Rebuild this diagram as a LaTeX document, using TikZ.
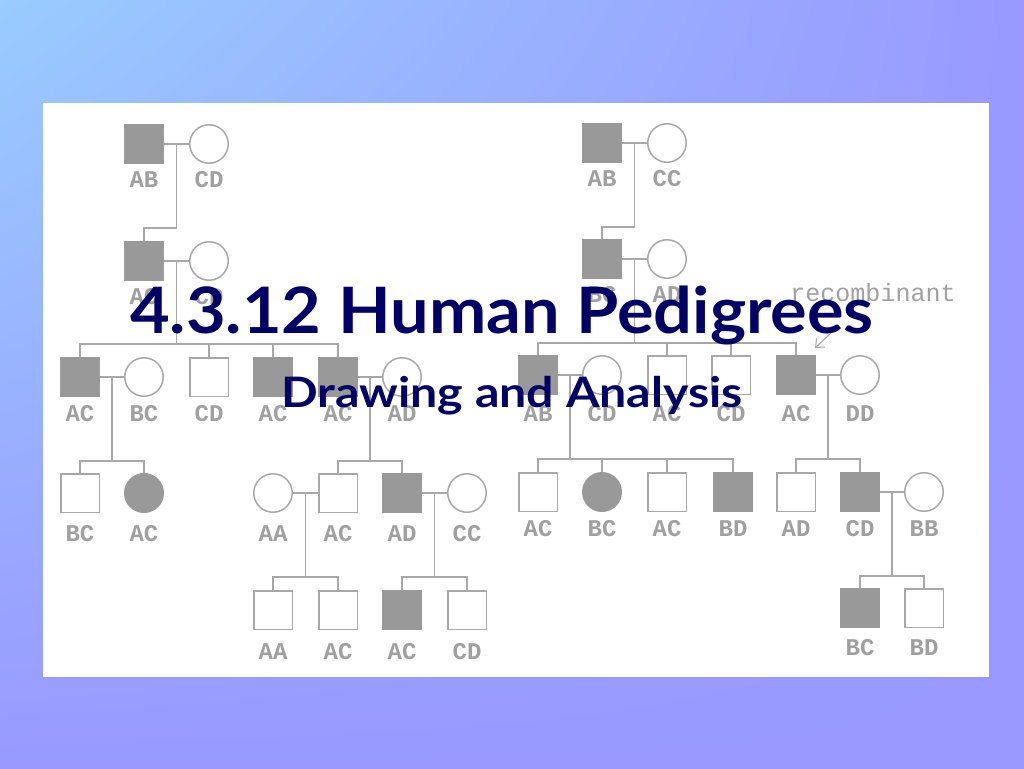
\documentclass[tikz,border=0pt]{standalone}
\usepackage{fontspec}
\usepackage{graphicx}
\setmainfont{Liberation Serif}
\newfontfamily\labfont{Liberation Mono}
\newfontfamily\titfont{Lato}
\usetikzlibrary{arrows.meta,calc,shadings}
\definecolor{bgA}{RGB}{153,204,255}
\definecolor{bgB}{RGB}{153,153,255}
\definecolor{pedfill}{RGB}{153,153,153}
\definecolor{pedline}{RGB}{168,168,168}
\definecolor{labgray}{RGB}{160,160,160}
\definecolor{navy}{RGB}{0,0,102}
\tikzset{
  pbase/.style={draw=pedline, line width=1.5pt, inner sep=0pt, minimum size=38.5pt},
  male/.style={pbase, rectangle, fill=white},
  female/.style={pbase, circle, fill=white},
  affm/.style={pbase, rectangle, fill=pedfill, draw=pedfill},
  afff/.style={pbase, circle, fill=pedfill, draw=pedfill},
  lab/.style={font=\labfont\bfseries\fontsize{24}{24}\selectfont, text=labgray, inner sep=0pt},
  reclab/.style={font=\labfont\fontsize{25}{25}\selectfont, text=labgray, inner sep=0pt},
  link/.style={draw=pedline, line width=1.5pt},
  titlestyle/.style={font=\titfont\bfseries\fontsize{64}{64}\selectfont, text=navy, inner sep=0pt, anchor=base},
  subtitlestyle/.style={font=\titfont\bfseries\fontsize{42}{42}\selectfont, text=navy, inner sep=0pt, anchor=base},
}
\newcommand\mkperson[6]{\node[#1] (#2) at (#3,#4) {}; \node[lab] (#2t) at (#3,#5) {#6};}
\begin{document}
\begin{tikzpicture}[x=1pt,y=-1pt]
\useasboundingbox (0,0) rectangle (1024,768);
\shade[upper left=bgA, upper right=bgB, lower left=bgB, lower right=bgB] (0,0) rectangle (1024,768);
\fill[white] (43,103) rectangle (989,677);

% ---------- left pedigree ----------
\mkperson{affm}{L1m}{144}{144}{180}{AB}
\mkperson{female}{L1f}{209}{144}{180}{CD}
\mkperson{affm}{L2m}{144}{261}{297}{AC}
\mkperson{female}{L2f}{209}{261}{297}{CD}
\mkperson{affm}{L3a}{80}{377}{414}{AC}
\mkperson{female}{L3b}{144}{377}{414}{BC}
\mkperson{male}{L3c}{209}{377}{414}{CD}
\mkperson{affm}{L3d}{273}{377}{414}{AC}
\mkperson{affm}{L3e}{338}{377}{414}{AC}
\mkperson{female}{L3f}{402}{377}{414}{AD}
\mkperson{male}{L4a}{80}{493}{534}{BC}
\mkperson{afff}{L4b}{144}{493}{534}{AC}
\mkperson{female}{L4c}{273}{493}{534}{AA}
\mkperson{male}{L4d}{338}{493}{534}{AC}
\mkperson{affm}{L4e}{402}{493}{534}{AD}
\mkperson{female}{L4f}{467}{493}{534}{CC}
\mkperson{male}{L5a}{273}{610}{652}{AA}
\mkperson{male}{L5b}{338}{610}{652}{AC}
\mkperson{affm}{L5c}{402}{610}{652}{AC}
\mkperson{male}{L5d}{467}{610}{652}{CD}

\draw[link] (L1m.east) -- (L1f.west);
\coordinate (L1j) at ($(L1m.east)!0.5!(L1f.west)$);
\draw[link] (L1j) -- ++(0,84) -| (L2m.north);
\draw[link] (L2m.east) -- (L2f.west);
\coordinate (L2j) at ($(L2m.east)!0.5!(L2f.west)$);
\draw[link] (L2j) -- ++(0,83);
\draw[link] (L3a.north) -- ++(0,-13) -| (L3e.north);
\draw[link] (L3c.north) -- ++(0,-13);
\draw[link] (L3d.north) -- ++(0,-13);
\draw[link] (L3a.east) -- (L3b.west);
\coordinate (L3j) at ($(L3a.east)!0.5!(L3b.west)$);
\draw[link] (L3j) -- ++(0,84);
\draw[link] (L4a.north) -- ++(0,-12) -| (L4b.north);
\draw[link] (L3e.east) -- (L3f.west);
\coordinate (L3k) at ($(L3e.east)!0.5!(L3f.west)$);
\draw[link] (L3k) -- ++(0,84);
\draw[link] (L4d.north) -- ++(0,-12) -| (L4e.north);
\draw[link] (L4c.east) -- (L4d.west);
\coordinate (L4j) at ($(L4c.east)!0.5!(L4d.west)$);
\draw[link] (L4j) -- ++(0,84);
\draw[link] (L5a.north) -- ++(0,-13) -| (L5b.north);
\draw[link] (L4e.east) -- (L4f.west);
\coordinate (L4k) at ($(L4e.east)!0.5!(L4f.west)$);
\draw[link] (L4k) -- ++(0,84);
\draw[link] (L5c.north) -- ++(0,-13) -| (L5d.north);

% ---------- right pedigree ----------
\mkperson{affm}{R1m}{602}{143}{179}{AB}
\mkperson{female}{R1f}{667}{143}{179}{CC}
\mkperson{affm}{R2m}{602}{259}{295}{BC}
\mkperson{female}{R2f}{667}{259}{295}{AD}
\mkperson{affm}{R3a}{538}{375}{414}{AB}
\mkperson{female}{R3b}{602}{375}{414}{CD}
\mkperson{male}{R3c}{667}{375}{414}{AC}
\mkperson{male}{R3d}{731}{375}{414}{CD}
\mkperson{affm}{R3e}{796}{375}{414}{AC}
\mkperson{female}{R3f}{860}{375}{414}{DD}
\mkperson{male}{R4a}{538}{492}{529}{AC}
\mkperson{afff}{R4b}{602}{492}{529}{BC}
\mkperson{male}{R4c}{667}{492}{529}{AC}
\mkperson{affm}{R4d}{733}{492}{529}{BD}
\mkperson{male}{R4e}{796}{492}{529}{AD}
\mkperson{affm}{R4f}{860}{492}{529}{CD}
\mkperson{female}{R4g}{924}{492}{529}{BB}
\mkperson{affm}{R5a}{860}{608}{648}{BC}
\mkperson{male}{R5b}{924}{608}{648}{BD}

\draw[link] (R1m.east) -- (R1f.west);
\coordinate (R1j) at ($(R1m.east)!0.5!(R1f.west)$);
\draw[link] (R1j) -- ++(0,84) -| (R2m.north);
\draw[link] (R2m.east) -- (R2f.west);
\coordinate (R2j) at ($(R2m.east)!0.5!(R2f.west)$);
\draw[link] (R2j) -- ++(0,84);
\draw[link] (R3a.north) -- ++(0,-12) -| (R3e.north);
\draw[link] (R3c.north) -- ++(0,-12);
\draw[link] (R3d.north) -- ++(0,-12);
\draw[link] (R3a.east) -- (R3b.west);
\coordinate (R3j) at ($(R3a.east)!0.5!(R3b.west)$);
\draw[link] (R3j) -- ++(0,84);
\draw[link] (R4a.north) -- ++(0,-13) -| (R4d.north);
\draw[link] (R4b.north) -- ++(0,-13);
\draw[link] (R4c.north) -- ++(0,-13);
\draw[link] (R3e.east) -- (R3f.west);
\coordinate (R3k) at ($(R3e.east)!0.5!(R3f.west)$);
\draw[link] (R3k) -- ++(0,84);
\draw[link] (R4e.north) -- ++(0,-13) -| (R4f.north);
\draw[link] (R4f.east) -- (R4g.west);
\coordinate (R4j) at ($(R4f.east)!0.5!(R4g.west)$);
\draw[link] (R4j) -- ++(0,84);
\draw[link] (R5a.north) -- ++(0,-12) -| (R5b.north);

\node[reclab] (rec) at (873,293) {recombinant};
\coordinate (recA) at (831,333);
\coordinate (recB) at (815,348);
\draw[draw=pedline, line width=1pt, -{Straight Barb[length=7pt,width=12pt]}] (recA) -- (recB);

% ---------- title ----------
\node[titlestyle] (title) at (502,333) {\scalebox{1.07}[1]{4.3.12 Human Pedigrees}};
\node[subtitlestyle] (subtitle) at (512,407) {\scalebox{1.15}[1]{Drawing and Analysis}};
\end{tikzpicture}
\end{document}
